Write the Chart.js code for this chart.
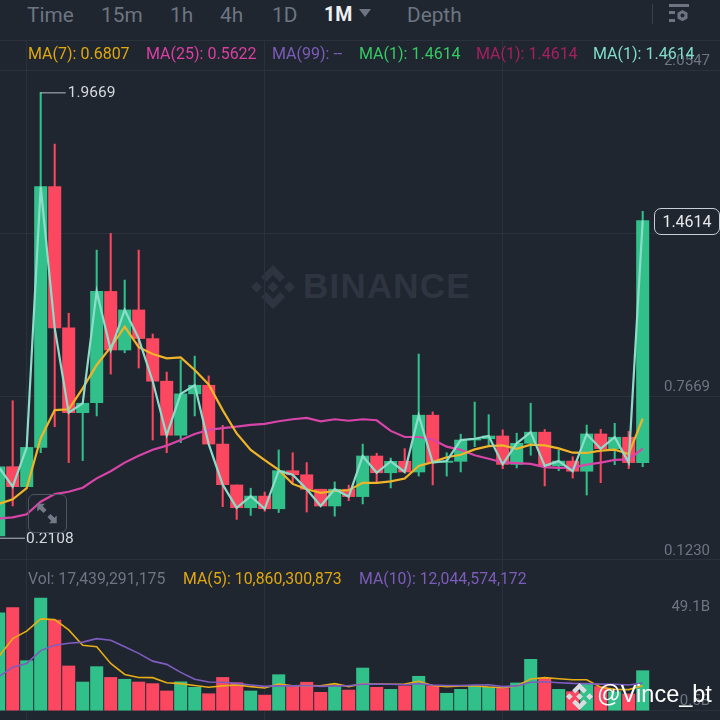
<!DOCTYPE html>
<html>
<head>
<meta charset="utf-8">
<script src="https://cdn.jsdelivr.net/npm/chart.js@4"></script>
<style>
html,body{margin:0;padding:0;width:720px;height:720px;overflow:hidden;background:#1f2630;font-family:Roboto,sans-serif}
#wrap{position:relative;width:720px;height:720px;overflow:hidden}
#c{position:absolute;left:0;top:41px;z-index:2}
.t{position:absolute;white-space:nowrap;line-height:1;z-index:3}
.tool{font-size:20.800px;color:#6d7582;top:5px}
.leg{font-size:16px;top:46px}
.vleg{font-size:15.800px;top:571px}
#topline{position:absolute;left:0;top:40px;width:720px;height:1px;background:#2a313c}
#tag{position:absolute;left:654px;top:208px;width:64px;height:25px;border:1px solid #c9ced6;border-radius:7px;background:rgba(31,38,48,.92);color:#e6e8ec;font-size:16px;line-height:25px;text-align:center;z-index:4}
#full{position:absolute;left:28px;top:494px;width:37px;height:37px;border:1px solid #4c5460;border-radius:6px;z-index:3}
#wm{position:absolute;left:303px;top:268px;font:bold 35px "Liberation Sans",sans-serif;letter-spacing:1.2px;color:#2e3540;z-index:1;line-height:1}
#vince{position:absolute;left:597px;top:683px;font:23.500px "Liberation Sans",sans-serif;color:#fff;z-index:5;line-height:1;white-space:nowrap}
svg{position:absolute}
</style>
</head>
<body>
<div id="wrap">
<div class="t tool" style="left:27px">Time</div>
<div class="t tool" style="left:101px">15m</div>
<div class="t tool" style="left:170px">1h</div>
<div class="t tool" style="left:220px">4h</div>
<div class="t tool" style="left:272px">1D</div>
<div class="t tool" style="left:324px;color:#eef0f3;font-weight:700;font-size:19.500px">1M</div>
<svg style="left:358px;top:8px" width="14" height="10"><path d="M1 1H13L7 9Z" fill="#6d7582"/></svg>
<div class="t tool" style="left:407px">Depth</div>
<div style="position:absolute;left:652px;top:4px;width:1px;height:20px;background:#3a414d"></div>
<svg style="left:666px;top:3px" width="24" height="22" fill="#6d7582"><rect x="3" y="1" width="20" height="3"/><rect x="3" y="8" width="6" height="3"/><rect x="3" y="16" width="6" height="3"/><path d="M16.5 7l5 2.8v5.6l-5 2.8-5-2.8V9.800z"/><circle cx="16.500" cy="12.600" r="2" fill="#1f2630"/></svg>
<div id="topline"></div>

<div class="t leg" style="left:28px;color:#e0a80f">MA(7): 0.6807</div>
<div class="t leg" style="left:146px;color:#dc3fa3">MA(25): 0.5622</div>
<div class="t leg" style="left:272px;color:#7c5cb8">MA(99): --</div>
<div class="t leg" style="left:359px;color:#35cb62">MA(1): 1.4614</div>
<div class="t leg" style="left:476px;color:#a81f60">MA(1): 1.4614</div>
<div class="t leg" style="left:593px;color:#7fdcc8">MA(1): 1.4614</div>

<div class="t vleg" style="left:28px;color:#6d7582">Vol: 17,439,291,175</div>
<div class="t vleg" style="left:183px;color:#e0a80f">MA(5): 10,860,300,873</div>
<div class="t vleg" style="left:359px;color:#7c5cb8">MA(10): 12,044,574,172</div>

<svg style="left:251px;top:265px;z-index:1" width="44" height="44" viewBox="0 0 44 44" fill="#2e3540"><path d="M22 0L34 12 29 17 22 10 15 17 10 12ZM22 44L34 32 29 27 22 34 15 27 10 32ZM5.500 16.500L11 22 5.500 27.500 0 22ZM38.500 16.500L44 22 38.500 27.500 33 22ZM22 16.500L27.500 22 22 27.500 16.500 22Z"/></svg>
<div id="wm">BINANCE</div>

<canvas id="c" width="720" height="679"></canvas>

<div id="tag">1.4614</div>
<div id="full"><svg style="left:7px;top:8px" width="22" height="21" viewBox="0 0 27 27" fill="#727a87"><path d="M1 1H11L8 4 13 9 9 13 4 8 1 11zM26 26H16L19 23 14 18 18 14 23 19 26 16z"/></svg></div>

<svg style="left:566px;top:683px;z-index:5" width="27" height="27" viewBox="0 0 44 44" fill="#d9dde2"><path d="M22 0L34 12 29 17 22 10 15 17 10 12ZM22 44L34 32 29 27 22 34 15 27 10 32ZM5.500 16.500L11 22 5.500 27.500 0 22ZM38.500 16.500L44 22 38.500 27.500 33 22ZM22 16.500L27.500 22 22 27.500 16.500 22Z"/></svg>
<div id="vince">@Vince_bt</div>
</div>

<script>
const categories = [0,1,2,3,4,5,6,7,8,9,10,11,12,13,14,15,16,17,18,19,20,21,22,23,24,25,26,27,28,29,30,31,32,33,34,35,36,37,38,39,40,41,42,43,44,45,46];
const opens  = [.218,.491,.412,.567,1.595,1.038,.704,.743,1.182,.951,1.109,.996,.828,.615,.778,.812,.580,.419,.329,.375,.325,.475,.459,.402,.336,.402,.373,.533,.467,.512,.470,.694,.508,.512,.596,.601,.612,.500,.583,.627,.494,.513,.473,.620,.562,.607,.507];
const highs  = [.517,.751,.567,1.9669,1.763,1.096,.741,1.345,1.411,1.227,1.345,1.014,.864,.912,.927,.849,.654,.419,.406,.391,.557,.546,.507,.402,.431,.418,.580,.544,.525,.562,.935,.707,.546,.619,.746,.696,.636,.623,.741,.638,.557,.530,.655,.638,.662,.630,1.498];
const lows   = [.2108,.336,.412,.546,.649,.507,.515,.691,.856,.940,.880,.596,.546,.586,.691,.580,.333,.283,.299,.315,.310,.423,.312,.336,.296,.357,.344,.431,.407,.470,.454,.419,.454,.470,.570,.576,.483,.486,.536,.415,.475,.446,.379,.428,.499,.483,.491];
const closes = [.490,.412,.567,1.595,1.038,.704,.741,1.182,.951,1.109,.996,.828,.615,.778,.812,.580,.420,.329,.375,.325,.475,.459,.402,.336,.402,.373,.533,.467,.512,.470,.694,.507,.513,.596,.601,.612,.500,.583,.627,.494,.513,.473,.620,.562,.607,.507,1.4614];
const ma7    = [.344,.362,.406,.603,.714,.717,.800,.892,.962,1.043,.962,.935,.918,.922,.872,.815,.714,.622,.557,.517,.478,.423,.402,.388,.395,.398,.427,.427,.433,.444,.494,.509,.528,.538,.559,.572,.575,.561,.578,.575,.563,.546,.545,.554,.558,.541,.6807];
const ma25   = [.287,.291,.303,.353,.383,.392,.408,.445,.473,.507,.534,.558,.574,.596,.620,.636,.643,.649,.656,.660,.670,.678,.683,.670,.678,.672,.678,.674,.632,.608,.608,.598,.570,.557,.536,.522,.508,.505,.502,.489,.486,.487,.499,.507,.518,.520,.5622];
const volumes = [42.7,44.9,21.8,49.1,39.5,19.5,12.5,19.2,14.5,13.7,12.5,11.8,8.6,12.6,10.2,7.4,14.5,12.2,8.6,6.8,15.7,10.8,12.4,8.0,10.5,9.0,18.6,10.2,9.3,10.8,15.0,10.9,7.6,9.3,10.8,10.3,9.7,12.1,22.4,14.1,9.3,8.3,11.6,10.5,8.3,7.3,17.44];
const volMa5  = [23.5,31.4,34.7,40.0,39.7,35.2,28.5,27.9,20.6,15.8,14.5,14.4,12.2,11.8,11.0,10.2,10.8,11.2,10.5,9.9,11.6,10.9,11.0,10.9,11.8,10.5,11.8,11.6,11.5,11.6,12.8,11.0,10.5,10.8,10.8,10.3,10.0,10.8,13.8,14.4,13.9,13.5,13.5,10.2,9.3,9.2,10.86];
const volMa10 = [14.8,18.9,20.6,26.2,28.5,29.4,29.9,31.4,30.7,27.9,25.0,21.6,20.2,16.7,13.7,12.5,12.4,11.9,11.2,10.6,10.8,10.8,11.0,10.6,10.8,10.9,11.6,11.6,11.5,11.3,11.8,11.2,11.0,11.0,11.2,11.3,10.5,10.8,12.4,12.6,12.2,11.9,11.8,11.6,11.5,11.2,12.04];
const priceTicks = [2.0547,1.4108,0.7669,0.1230];
const volMaxTicks = [49.1];
const volBaseTicks = [0];
const volMaxLabel = '49.1B';
const volBaseLabel = '0.5B';
const timeGrid = [2,19,36];

const UP = '#31c08a', DOWN = '#fb4760', GRID = '#2a313c', AXIS = '#6d7582';
const candleColor = categories.map(i => closes[i] >= opens[i] ? UP : DOWN);
const xy = arr => categories.map(i => ({x: i, y: arr[i]}));

const leaderPlugin = {
  id: 'leaders',
  afterDatasetsDraw(chart) {
    const {ctx, scales} = chart;
    const iHigh = highs.indexOf(Math.max(...highs));
    const iLow = lows.indexOf(Math.min(...lows));
    const hx = scales.x.getPixelForValue(iHigh), hy = scales.y.getPixelForValue(highs[iHigh]);
    const ly = scales.y.getPixelForValue(lows[iLow]);
    ctx.save();
    ctx.strokeStyle = '#b8bcc3'; ctx.lineWidth = 1;
    ctx.beginPath(); ctx.moveTo(hx, hy + .5); ctx.lineTo(hx + 25, hy + .5);
    ctx.moveTo(0, ly + .5); ctx.lineTo(25, ly + .5); ctx.stroke();
    ctx.fillStyle = '#d5d8dd'; ctx.font = '15.5px Roboto'; ctx.textBaseline = 'middle'; ctx.textAlign = 'left';
    ctx.fillText(highs[iHigh].toFixed(4), hx + 27, hy + 1);
    ctx.fillText(lows[iLow].toFixed(4), 26, ly + 1);
    ctx.restore();
  }
};

const maLine = (label, data, color, axis, width, order) => ({
  type: 'line', label, data: xy(data), borderColor: color, backgroundColor: color, borderWidth: width,
  pointRadius: 0, tension: 0, yAxisID: axis, order
});
const barSet = (label, data, thickness, axis, order) => ({
  type: 'bar', label, data, backgroundColor: candleColor, borderWidth: 0, barThickness: thickness,
  grouped: false, yAxisID: axis, order
});

new Chart(document.getElementById('c'), {
  data: { datasets: [
    barSet('wick', categories.map(i => ({x: i, y: [lows[i], highs[i]]})), 1.4, 'y', 9),
    barSet('candle', categories.map(i => ({x: i, y: [opens[i], closes[i]]})), 12.4, 'y', 8),
    barSet('volume', xy(volumes), 12.4, 'yVol', 7),
    maLine('MA(25)', ma25, '#d944a8', 'y', 2.2, 4),
    maLine('MA(7)', ma7, '#f0b429', 'y', 2.2, 3),
    maLine('MA(1)', closes, '#8ddcca', 'y', 2.2, 2),
    maLine('Vol MA(5)', volMa5, '#e6ad14', 'yVol', 1.6, 5),
    maLine('Vol MA(10)', volMa10, '#7e5cc0', 'yVol', 1.6, 4)
  ]},
  plugins: [leaderPlugin],
  options: {
    responsive: false, animation: false, devicePixelRatio: 1,
    layout: {padding: 0},
    plugins: {legend: {display: false}, tooltip: {enabled: false}, title: {display: false}},
    scales: {
      x: {
        type: 'linear', min: 0.0929, max: 51.5214, offset: false, bounds: 'data',
        afterBuildTicks: s => { s.ticks = timeGrid.map(value => ({value})); },
        afterFit: s => { s.height = 0; },
        ticks: {display: false},
        grid: {color: GRID, lineWidth: 1, drawTicks: false, offset: false}, border: {display: false}
      },
      y: {
        position: 'right', min: -0.5079, max: 2.1694, bounds: 'data',
        afterBuildTicks: s => { s.ticks = priceTicks.map(value => ({value})); },
        afterFit: s => { s.width = 0; },
        ticks: {mirror: true, padding: -10, labelOffset: -9, color: AXIS, font: {family: 'Roboto', size: 15}, callback: v => v.toFixed(4)},
        grid: {color: GRID, lineWidth: 1, drawTicks: false}, border: {display: false}
      },
      yVol: {
        position: 'right', min: -4.054, max: 291.9, bounds: 'data',
        afterBuildTicks: s => { s.ticks = volBaseTicks.map(value => ({value})); },
        afterFit: s => { s.width = 0; },
        ticks: {mirror: true, padding: -10, labelOffset: -9, color: AXIS, font: {family: 'Roboto', size: 15}, callback: () => volBaseLabel},
        grid: {color: GRID, lineWidth: 1, drawTicks: false}, border: {display: false}
      },
      yVolMax: {
        position: 'right', min: -4.054, max: 291.9, bounds: 'data',
        afterBuildTicks: s => { s.ticks = volMaxTicks.map(value => ({value})); },
        afterFit: s => { s.width = 0; },
        ticks: {mirror: true, padding: -10, labelOffset: 9, color: AXIS, font: {family: 'Roboto', size: 15}, callback: () => volMaxLabel},
        grid: {display: false}, border: {display: false}
      }
    }
  }
});
</script>
</body>
</html>
